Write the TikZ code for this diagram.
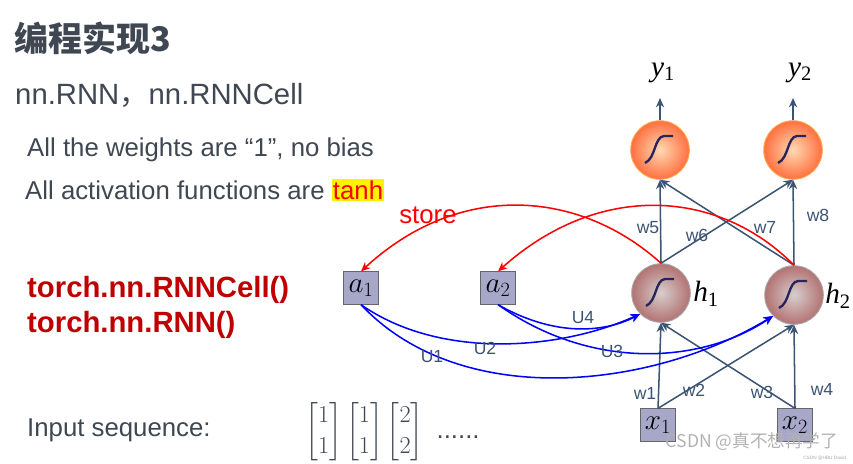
\documentclass[tikz,border=0pt]{standalone}
\usepackage{amsmath}
\usepackage{fontspec}
\setmainfont{Liberation Sans}
\newfontfamily\cjk{Noto Sans CJK SC}
\newfontfamily\tms{Liberation Serif}
\usetikzlibrary{arrows.meta,calc}
\definecolor{arr}{HTML}{3B5474}
\definecolor{ttl}{HTML}{3F4752}
\definecolor{dred}{HTML}{C00000}
\tikzset{
 lbl/.style={font=\fontsize{15}{16}\selectfont, text=arr},
 outn/.style={circle,minimum size=50,inner sep=0,draw=orange!70!white,line width=0.8pt,inner color=orange!30!white,outer color=red!50!orange!75!white,shading=radial},
 hidn/.style={circle,minimum size=50,inner sep=0,draw=gray!70,line width=0.8pt,inner color=red!10!gray!35!white,outer color=red!30!gray!85!white,shading=radial},
 boxn/.style={draw=gray!80!black,fill=blue!25!gray!55!white,minimum width=30,minimum height=28,inner sep=0,font=\tms\itshape\fontsize{24}{24}\selectfont},
 conn/.style={draw=arr,line width=1.3pt,-{Stealth[length=8pt,width=7pt]}},
 redc/.style={draw=red,line width=1.3pt,-{Stealth[length=8pt,width=7pt]}},
 bluc/.style={draw=blue,line width=1.3pt,-{Stealth[length=8pt,width=7pt]}},
 body/.style={anchor=west,font=\fontsize{22}{26}\selectfont,text=ttl,inner sep=0},
 sub/.style={font=\tms\itshape\fontsize{25}{25}\selectfont},
}
\newcommand{\sig}[1]{\draw[line width=2pt,draw=blue!25!black!85] ($(#1)+(-15,13)$) .. controls ($(#1)+(-4,8)$) and ($(#1)+(-6,-13)$) .. ($(#1)+(4,-14)$) -- ($(#1)+(13,-14)$);}
\begin{document}
\begin{tikzpicture}[x=0.03cm,y=-0.03cm]
\useasboundingbox (0,0) rectangle (853,463);
\node[anchor=west,inner sep=0,text=ttl,font=\cjk\bfseries\fontsize{29}{30}\selectfont] (title) at (14,38) {编程实现3};
\node[body,font=\fontsize{25}{28}\selectfont] (nn) at (15,95) {nn.RNN{\cjk ，}nn.RNNCell};
\node[body] (t1) at (27,150) {All the weights are “1”, no bias};
\node[body] (t2) at (25,190) {All activation functions are {\fboxsep=1pt\colorbox{yellow}{\color{red}tanh}}};
\node[body,text=dred,font=\bfseries\fontsize{25}{28}\selectfont] (tc) at (27,290) {torch.nn.RNNCell()};
\node[body,text=dred,font=\bfseries\fontsize{25}{28}\selectfont] (tr) at (27,325) {torch.nn.RNN()};
\node[body] (is) at (27,430) {Input sequence:};
\node[anchor=west,inner sep=0,text=ttl,font=\fontsize{22}{26}\selectfont] (mat) at (305,432) {$\begin{bmatrix}1\\1\end{bmatrix}\begin{bmatrix}1\\1\end{bmatrix}\begin{bmatrix}2\\2\end{bmatrix}$\enspace ......};
\node[outn] (o1) at (660,150) {};
\node[outn] (o2) at (793,150) {};
\node[hidn] (h1) at (661,293) {};
\node[hidn] (h2) at (794,295) {};
\sig{o1}\sig{o2}\sig{h1}\sig{h2}
\node[boxn] (x1) at (658,425) {$x_1$};
\node[boxn] (x2) at (795,425) {$x_2$};
\node[boxn] (a1) at (361,288) {$a_1$};
\node[boxn] (a2) at (498,288) {$a_2$};
\node[sub] (ly1) at (663,73) {y\textsubscript{\upshape 1}};
\node[sub] (ly2) at (800,73) {y\textsubscript{\upshape 2}};
\node[sub] (lh1) at (706,294) {h\textsubscript{\upshape 1}};
\node[sub] (lh2) at (838,296) {h\textsubscript{\upshape 2}};
\coordinate (e1) at (660,98);
\coordinate (e2) at (793,98);
\draw[conn] (o1.north) -- (e1);
\draw[conn] (o2.north) -- (e2);
\draw[conn] (x1.north) -- (h1.south);
\draw[conn] (x1.north) -- (h2.south);
\draw[conn] (x2.north) -- (h2.south);
\draw[conn] (x2.north) -- (h1.south);
\draw[conn] (h1.north) -- (o1.south);
\draw[conn] (h1.north) -- (o2.south);
\draw[conn] (h2.north) -- (o2.south);
\draw[conn] (h2.north) -- (o1.south);
\node[lbl] at (645,393) {w1};
\node[lbl] at (694,390) {w2};
\node[lbl] at (762,392) {w3};
\node[lbl] at (822,389) {w4};
\node[lbl] at (648,228) {w5};
\node[lbl] at (697,235) {w6};
\node[lbl] at (765,227) {w7};
\node[lbl] at (818,215) {w8};
\draw[redc] (h1.north) .. controls (580,190) and (460,180) .. (a1.north);
\draw[redc] (h2.north) .. controls (720,190) and (600,180) .. (a2.north);
\node[text=red,font=\fontsize{22}{24}\selectfont] at (428,215) {store};
\draw[bluc] (a1.south) .. controls (440,360) and (560,350) .. (h1.south west);
\draw[bluc] (a1.south) .. controls (460,410) and (650,390) .. (h2.south west);
\draw[bluc] (a2.south) .. controls (560,340) and (610,330) .. (h1.south west);
\draw[bluc] (a2.south) .. controls (590,370) and (700,365) .. (h2.south west);
\node[lbl] at (432,357) {U1};
\node[lbl] at (485,348) {U2};
\node[lbl] at (583,318) {U4};
\node[lbl] at (612,351) {U3};
\node[text=gray!60,font=\cjk\fontsize{15}{16}\selectfont,anchor=east] (wm) at (842,442) {CSDN @真不想再学了};
\node[text=gray!70,font=\fontsize{4}{5}\selectfont,anchor=east] (wm2) at (850,458) {CSDN @HBU David};
\end{tikzpicture}
\end{document}
